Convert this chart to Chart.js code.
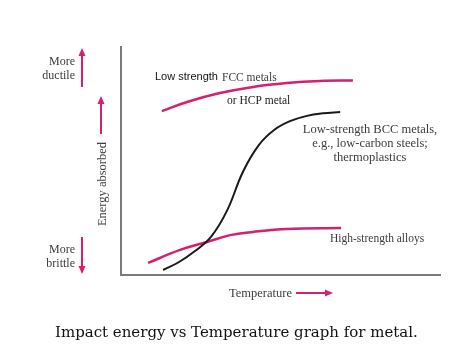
<!DOCTYPE html>
<html>
<head>
<meta charset="utf-8">
<script src="https://cdn.jsdelivr.net/npm/chart.js@4.4.1/dist/chart.umd.min.js"></script>
<style>
html,body{margin:0;padding:0;background:#fff;}
#wrap{width:474px;height:355px;}
</style>
</head>
<body>
<div id="wrap"><canvas id="c" width="474" height="355"></canvas></div>
<script>
// Temperature (x) and energy absorbed (y), arbitrary 0-100 units
const fccX = [12.8, 20.7, 31.0, 41.4, 52.0, 62.4, 72.7];
const fccY = [71.9, 75.9, 79.8, 82.5, 84.2, 85.1, 85.3];
const bccX = [13.2, 18.2, 23.2, 28.2, 33.2, 38.2, 43.2, 48.2, 53.2, 58.3, 63.3, 68.7];
const bccY = [2.2, 5.7, 10.5, 16.7, 28.1, 45.2, 57.0, 63.8, 67.6, 69.8, 70.9, 71.5];
const hsX = [8.5, 18.5, 27.0, 34.2, 41.4, 52.0, 69.0];
const hsY = [5.3, 11.0, 14.5, 17.5, 18.9, 20.2, 20.6];

const seriesNames = ['FCC metals', 'Low-strength BCC metals', 'High-strength alloys'];
const xTitle = 'Temperature';
const yTitle = 'Energy absorbed';
const caption = 'Impact energy vs Temperature graph for metal.';

const pts = (xs, ys) => xs.map((x, i) => ({x, y: ys[i]}));
const PINK = '#d61f6e';

function arrow(ctx, x1, y1, x2, y2, color) {
  ctx.save();
  ctx.strokeStyle = color; ctx.fillStyle = color; ctx.lineWidth = 2;
  const a = Math.atan2(y2 - y1, x2 - x1);
  const hl = 8, hw = 3.5;
  const bx = x2 - hl * Math.cos(a), by = y2 - hl * Math.sin(a);
  ctx.beginPath(); ctx.moveTo(x1, y1); ctx.lineTo(bx, by); ctx.stroke();
  ctx.beginPath();
  ctx.moveTo(x2, y2);
  ctx.lineTo(bx + hw * Math.sin(a), by - hw * Math.cos(a));
  ctx.lineTo(bx - hw * Math.sin(a), by + hw * Math.cos(a));
  ctx.closePath(); ctx.fill();
  ctx.restore();
}

const decor = {
  id: 'decor',
  afterDraw(chart) {
    const ctx = chart.ctx;
    ctx.save();
    const serif = '"Liberation Serif", "Times New Roman", serif';
    ctx.fillStyle = '#3c3c3c';
    ctx.textBaseline = 'middle';
    // left side labels
    ctx.font = '12px ' + serif;
    ctx.textAlign = 'right';
    ctx.fillText('More', 75, 62);
    ctx.fillText('ductile', 75, 76);
    ctx.fillText('More', 75, 250);
    ctx.fillText('brittle', 75, 264);
    arrow(ctx, 82, 87, 82, 48, PINK);
    arrow(ctx, 82, 237, 82, 274, PINK);
    arrow(ctx, 101, 134, 101, 96, PINK);
    // y title rotated
    ctx.save();
    ctx.translate(103, 184);
    ctx.rotate(-Math.PI / 2);
    ctx.textAlign = 'center';
    ctx.font = '12.5px ' + serif;
    ctx.fillText(yTitle, 0, 0);
    ctx.restore();
    // x title
    ctx.textAlign = 'left';
    ctx.font = '12.5px ' + serif;
    ctx.fillText(xTitle, 229, 294);
    arrow(ctx, 296, 293, 333, 293, PINK);
    // curve labels
    ctx.fillStyle = '#111';
    ctx.font = '11px "Liberation Sans", Arial, sans-serif';
    ctx.fillText('Low strength', 155, 77);
    ctx.fillStyle = '#3c3c3c';
    ctx.font = '11.5px ' + serif;
    ctx.fillText(seriesNames[0], 222, 78);
    ctx.fillStyle = '#222';
    ctx.fillText('or HCP metal', 227, 101);
    ctx.fillStyle = '#3c3c3c';
    ctx.font = '12.5px ' + serif;
    ctx.textAlign = 'center';
    ctx.fillText(seriesNames[1] + ',', 370, 130);
    ctx.fillText('e.g., low-carbon steels;', 370, 144);
    ctx.fillText('thermoplastics', 370, 158);
    ctx.textAlign = 'left';
    ctx.font = '11.5px ' + serif;
    ctx.fillText(seriesNames[2], 330, 239);
    // caption
    ctx.fillStyle = '#111';
    let size = 18;
    ctx.font = size + 'px "DejaVu Serif", serif';
    const w = ctx.measureText(caption).width;
    size = size * 363 / w;
    ctx.font = size.toFixed(2) + 'px "DejaVu Serif", serif';
    ctx.fillText(caption, 55, 333);
    ctx.restore();
  }
};

new Chart(document.getElementById('c'), {
  type: 'scatter',
  data: {
    datasets: [
      {label: seriesNames[0], data: pts(fccX, fccY), borderColor: PINK, borderWidth: 2.5},
      {label: seriesNames[1], data: pts(bccX, bccY), borderColor: '#1a1a1a', borderWidth: 2},
      {label: seriesNames[2], data: pts(hsX, hsY), borderColor: PINK, borderWidth: 2.5}
    ].map(d => Object.assign(d, {showLine: true, pointRadius: 0, tension: 0.4, fill: false, clip: false}))
  },
  options: {
    responsive: false,
    animation: false,
    devicePixelRatio: 1,
    layout: {padding: {left: 121, right: 34, top: 47, bottom: 80}},
    plugins: {legend: {display: false}, tooltip: {enabled: false}},
    scales: {
      x: {type: 'linear', min: 0, max: 100,
          ticks: {display: false}, grid: {display: false, drawTicks: false},
          border: {display: true, color: '#7a7a7a', width: 2}},
      y: {type: 'linear', min: 0, max: 100,
          ticks: {display: false}, grid: {display: false, drawTicks: false},
          border: {display: true, color: '#7a7a7a', width: 2}}
    }
  },
  plugins: [decor]
});
</script>
</body>
</html>
